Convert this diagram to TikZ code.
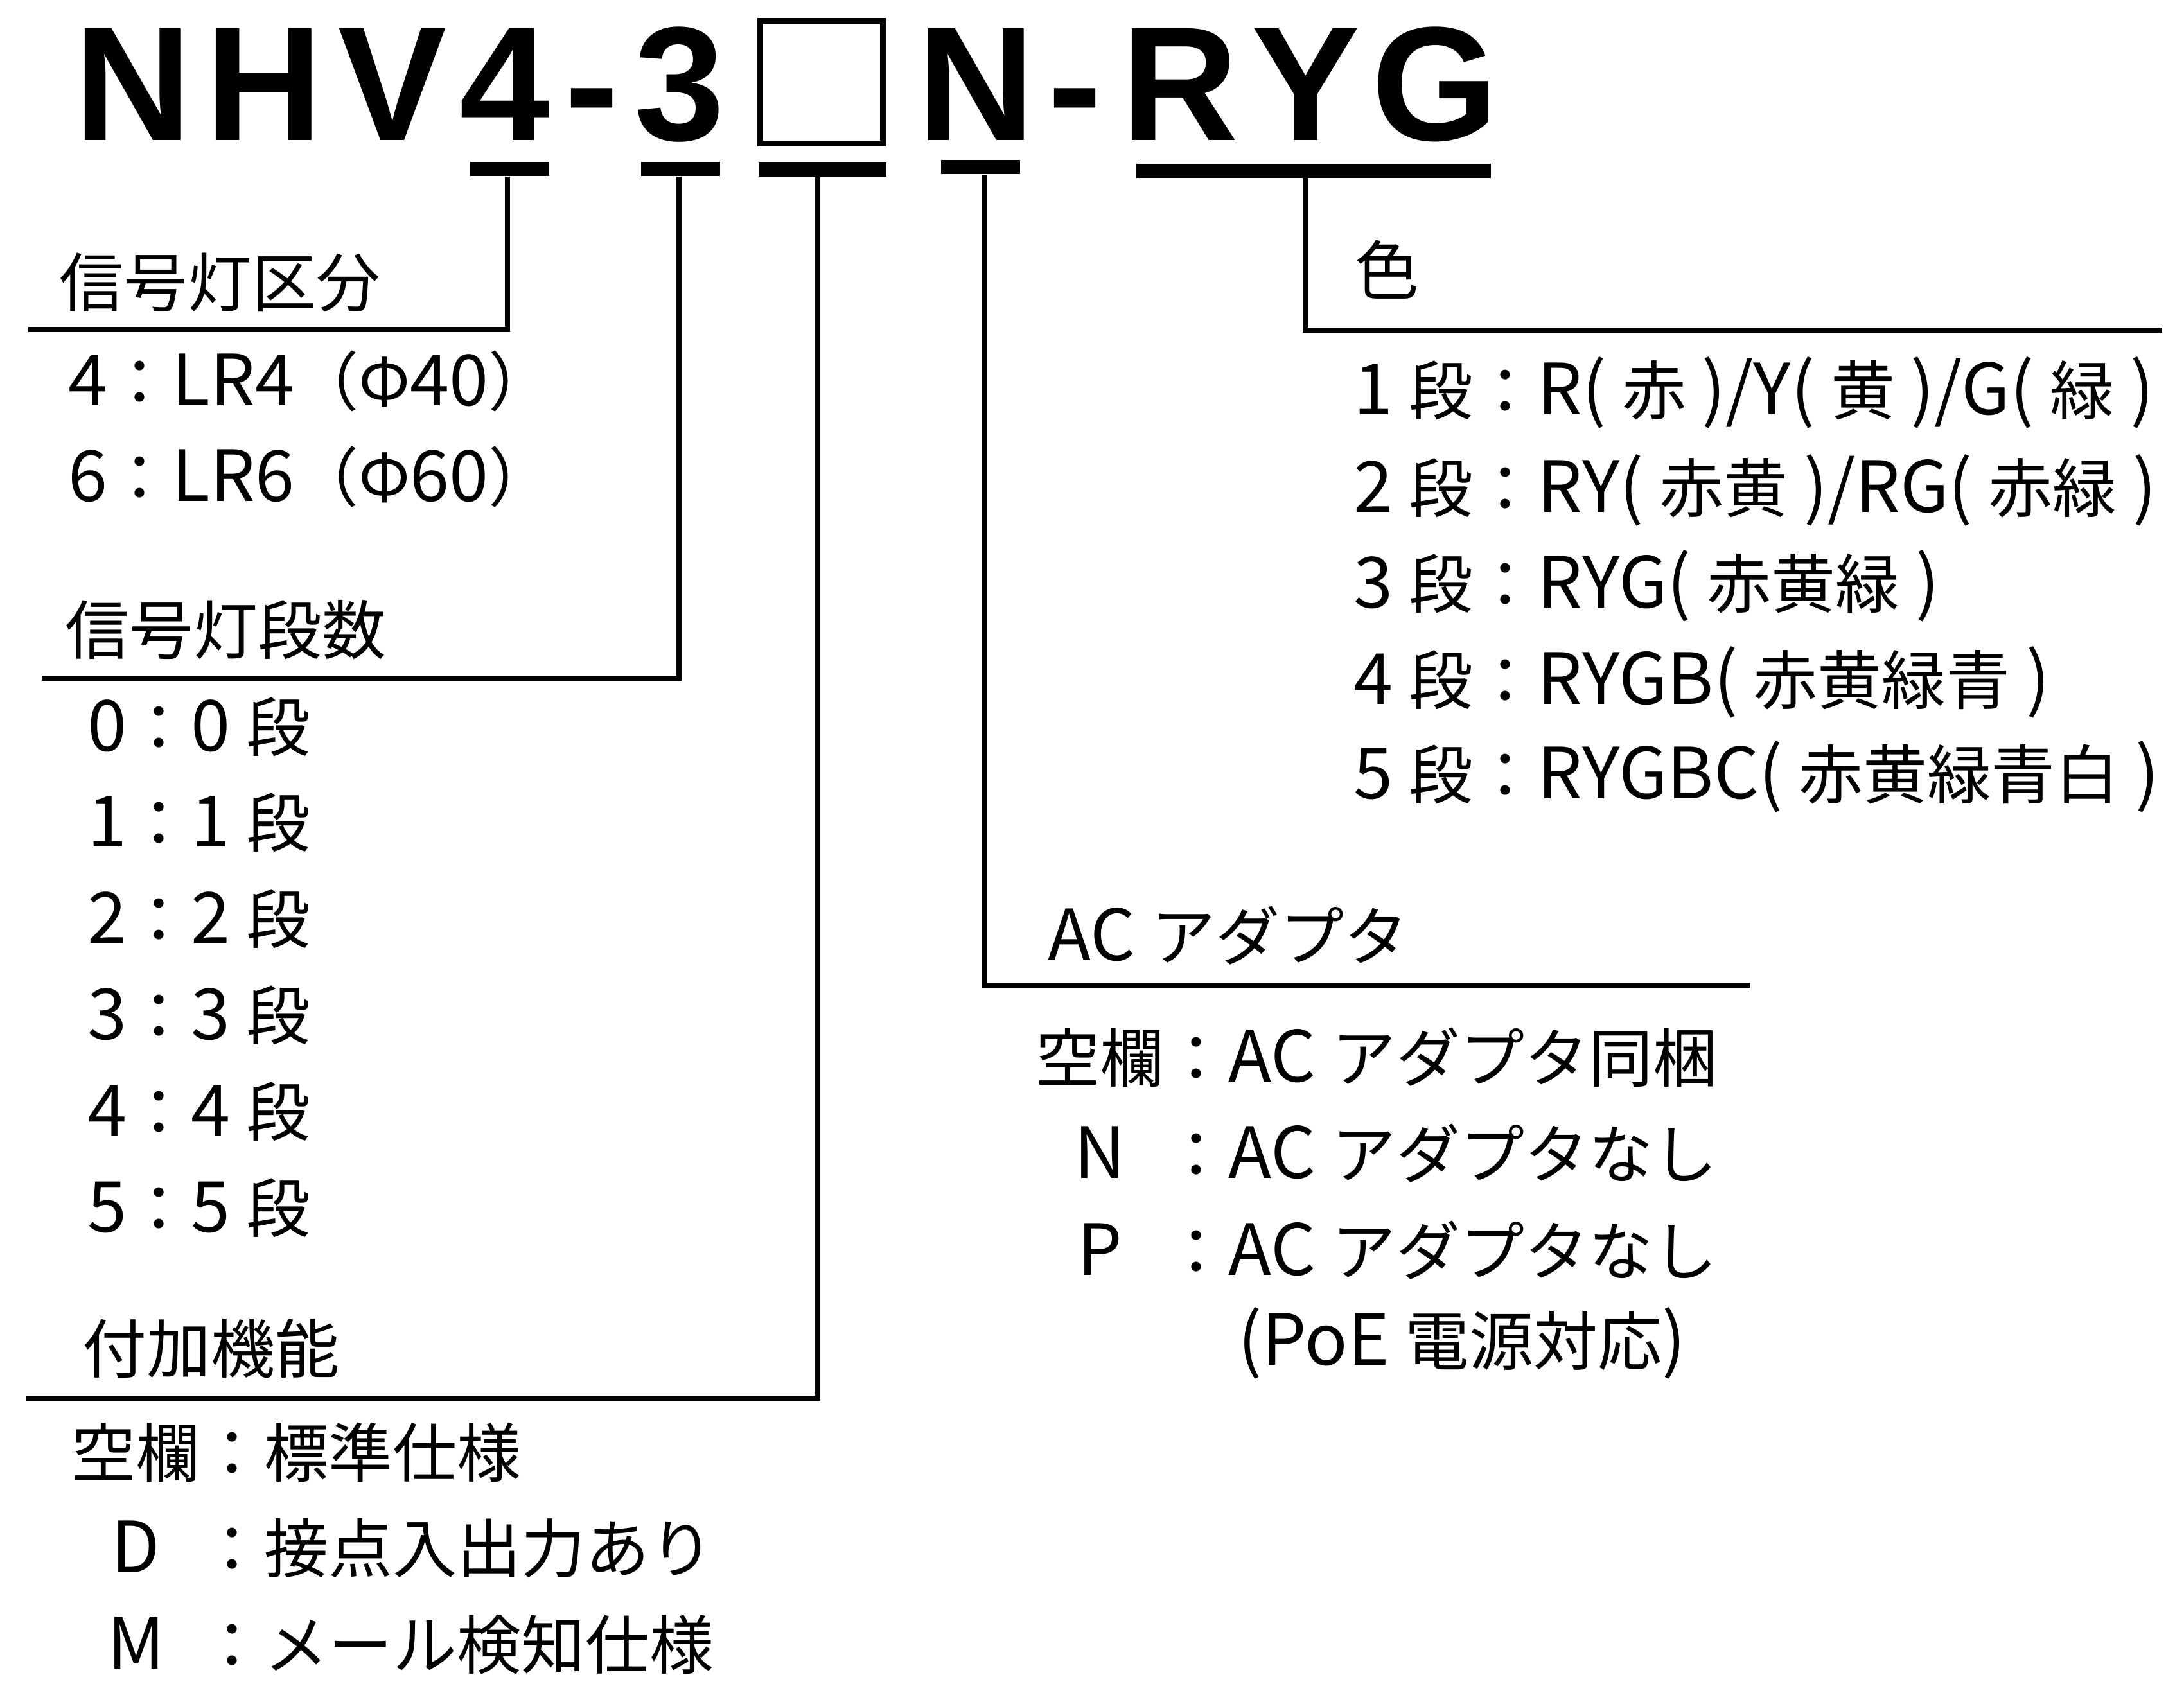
\documentclass[tikz,border=0pt]{standalone}
\usepackage{fontspec}
\newfontfamily\jpfont{Noto Sans CJK JP}
\newfontfamily\latfont{Noto Sans CJK JP}[Scale=1.1]
\newfontfamily\titlefont{Liberation Sans}
\newcommand\lat[1]{{\latfont #1}}

\begin{document}
\begin{tikzpicture}[
    title/.style={anchor=base, inner sep=0pt, font=\titlefont\bfseries\fontsize{72}{72}\selectfont},
    bar/.style={rectangle, fill=black, inner sep=0pt, minimum height=0.22cm},
    leader/.style={line width=0.078cm, line join=miter},
    entry/.style={anchor=base west, inner sep=0pt, font=\jpfont\fontsize{28.45}{34}\selectfont}
]
\useasboundingbox (0,0) rectangle (34,-26.35);

% Model number
\foreach \ch/\x/\nm in {N/2.065/t1, H/4.11/t2, V/6.105/t3, 4/7.855/t4, -/9.215/t5, 3/10.575/t6,
                        N/15.20/t8, -/16.74/t9, R/18.365/t10, Y/20.325/t11, G/22.34/t12}
    \node[title] (\nm) at (\x,-2.18) {\ch};
\node[draw, line width=0.09cm, minimum width=1.91cm, minimum height=1.91cm, inner sep=0pt] (blank) at (12.79,-1.28) {};

% Underbars
\node[bar, minimum width=1.23cm] (bar1) at (7.935,-2.63) {};
\node[bar, minimum width=1.23cm] (bar2) at (10.595,-2.63) {};
\node[bar, minimum width=1.98cm] (bar3) at (12.81,-2.64) {};
\node[bar, minimum width=1.23cm] (bar4) at (15.265,-2.60) {};
\node[bar, minimum width=5.52cm] (bar5) at (20.45,-2.655) {};

% Leader ends
\coordinate (end1) at (0.44,-5.13);
\coordinate (end2) at (0.65,-10.56);
\coordinate (end3) at (0.40,-21.77);
\coordinate (end4) at (27.25,-15.34);
\coordinate (end5) at (33.66,-5.14);

% Leaders
\draw[leader] ([xshift=-0.35mm]bar1.south) |- (end1);
\draw[leader] ([xshift=-0.25mm]bar2.south) |- (end2);
\draw[leader] ([xshift=-0.8mm]bar3.south) |- (end3);
\draw[leader] ([xshift=0.55mm]bar4.south) |- (end4);
\draw[leader] ([xshift=-1.3mm]bar5.south) |- (end5);

% Lamp type
\node[entry] (type) at (0.92,-4.77) {信号灯区分};
\node[entry] (type4) at (1.06,-6.31) {\lat{4}：\lat{LR4}（Φ\lat{40}）};
\node[entry] (type6) at (1.06,-7.80) {\lat{6}：\lat{LR6}（Φ\lat{60}）};

% Number of tiers
\node[entry] (tiers) at (1.01,-10.18) {信号灯段数};
\foreach \n in {0,...,5}
    \node[entry] (dan\n) at (1.36,{-11.69-1.498*\n}) {\lat{\n}：\lat{\n\ }段};

% Option
\node[entry] (option) at (1.28,-21.37) {付加機能};
\node[entry] (optstd) at (1.11,-22.99) {空欄：標準仕様};
\node[entry] (optd) at (1.11,-24.48) {\makebox[2em]{\lat{D}}：接点入出力あり};
\node[entry] (optm) at (1.11,-25.98) {\makebox[2em]{\lat{M}}：メール検知仕様};

% AC adapter
\node[entry] (adapter) at (16.31,-14.95) {\lat{AC }アダプタ};
\node[entry] (adstd) at (16.12,-16.84) {空欄：\lat{AC }アダプタ同梱};
\node[entry] (adn) at (16.12,-18.34) {\makebox[2em]{\lat{N}}：\lat{AC }アダプタなし};
\node[entry] (adp) at (16.12,-19.85) {\makebox[2em]{\lat{P}}：\lat{AC }アダプタなし};
\node[entry] (adpoe) at (19.27,-21.25) {\lat{(PoE }電源対応\lat{)}};

% Colour
\node[entry] (colour) at (21.09,-4.58) {色};
\node[entry] (col1) at (21.07,-6.45) {\lat{1 }段：\lat{R( }赤\lat{ )/Y( }黄\lat{ )/G( }緑\lat{ )}};
\node[entry] (col2) at (21.07,-7.97) {\lat{2 }段：\lat{RY( }赤黄\lat{ )/RG( }赤緑\lat{ )}};
\node[entry] (col3) at (21.07,-9.46) {\lat{3 }段：\lat{RYG( }赤黄緑\lat{ )}};
\node[entry] (col4) at (21.07,-10.96) {\lat{4 }段：\lat{RYGB( }赤黄緑青\lat{ )}};
\node[entry] (col5) at (21.07,-12.43) {\lat{5 }段：\lat{RYGBC( }赤黄緑青白\lat{ )}};

\end{tikzpicture}
\end{document}
